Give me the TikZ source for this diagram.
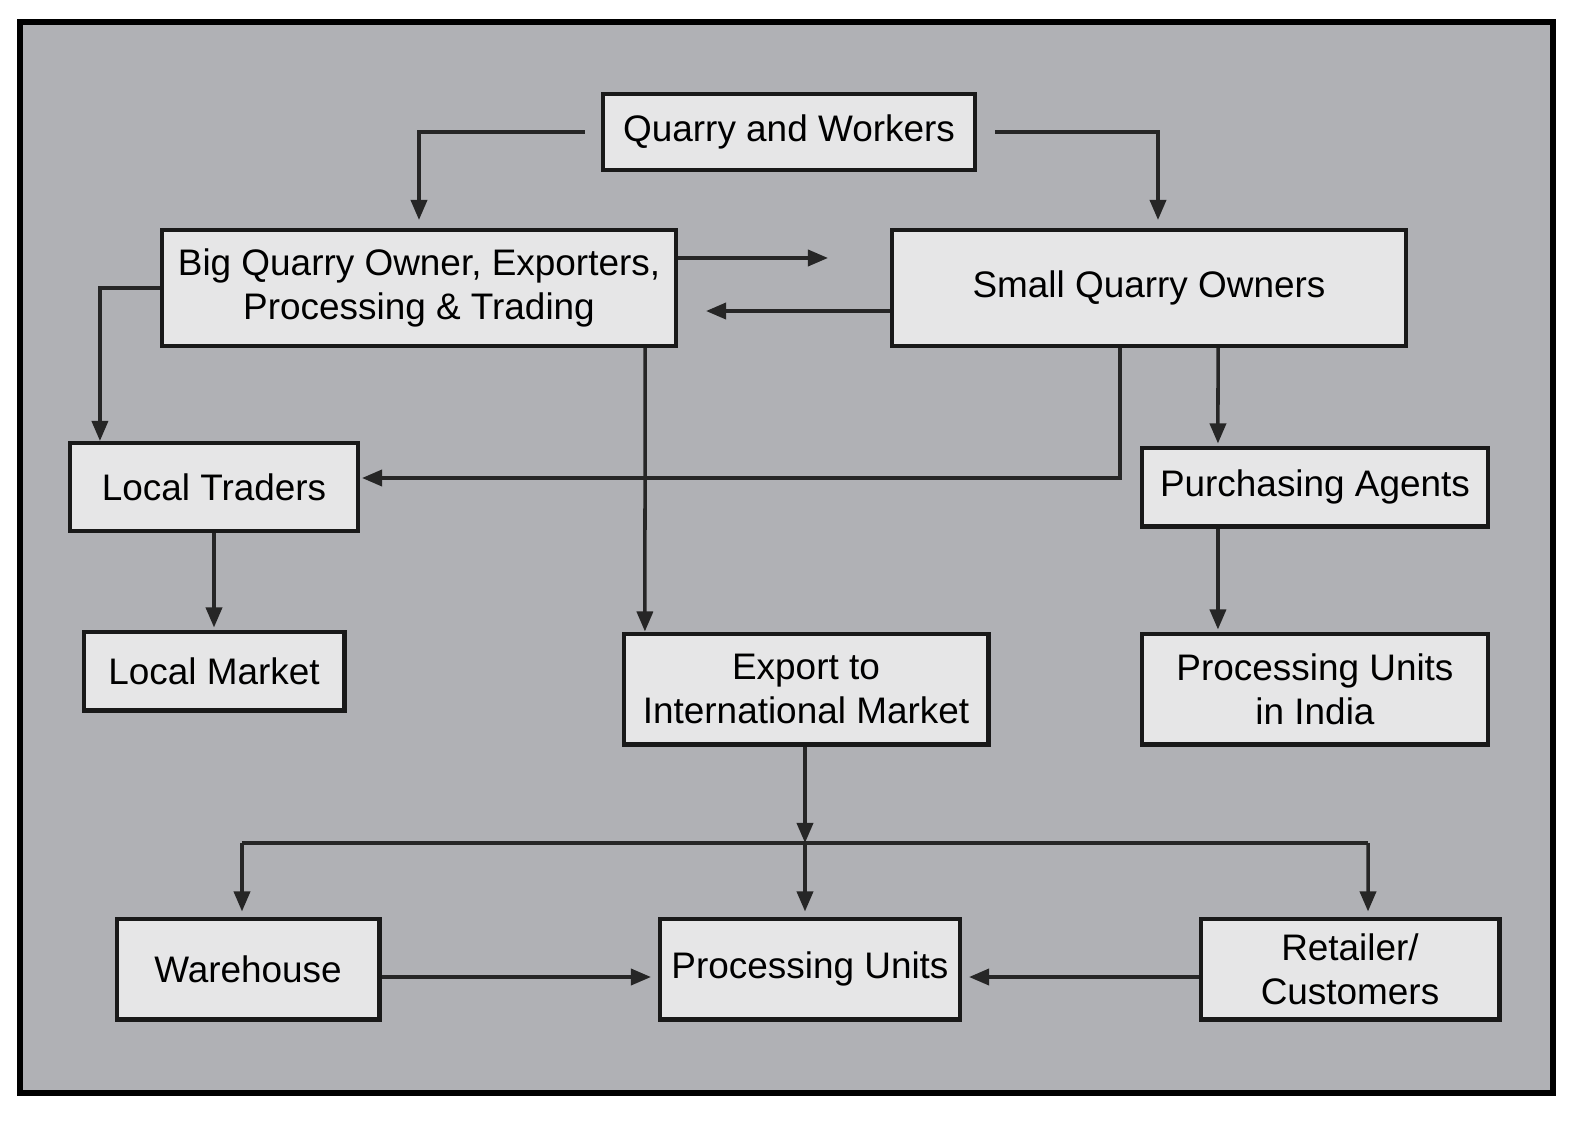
\documentclass[tikz,border=0pt]{standalone}
\usepackage{fontspec}
\setmainfont{Liberation Sans}
\usetikzlibrary{arrows.meta,calc}
\definecolor{bg}{HTML}{B0B1B5}
\definecolor{bx}{HTML}{E6E6E7}
\newcommand{\bxn}[6]{\node[box,minimum width=#4*0.01cm-1.2pt,minimum height=#5*0.01cm-1.2pt] (#1) at (#2,#3) {#6};}
\begin{document}%
\begin{tikzpicture}[x=0.01cm,y=-0.01cm,
  box/.style={draw=black!90,line width=1.2pt,fill=bx,inner sep=0pt,font=\fontsize{10.5}{12.5}\selectfont,align=center},
  arr/.style={draw=black!85,line width=1pt,-{Triangle[length=0.2cm,width=0.16cm]}},
  ln/.style={draw=black!85,line width=1pt}]
\useasboundingbox (0,0) rectangle (1596,1121);
\draw[line width=1.8pt,fill=bg] (20,22) rectangle (1553,1093);
\bxn{qw}{789}{132}{376}{80}{Quarry and Workers}
\bxn{big}{419}{288}{518}{120}{Big Quarry Owner, Exporters,\\Processing \& Trading}
\bxn{small}{1149}{288}{518}{120}{Small Quarry Owners}
\bxn{lt}{214}{487}{292}{92}{Local Traders}
\bxn{pa}{1315}{487}{350}{83}{Purchasing Agents}
\bxn{lm}{214}{671}{265}{83}{Local Market}
\bxn{ex}{806}{689}{369}{115}{Export to\\International Market}
\bxn{pui}{1315}{689}{350}{115}{Processing Units\\in India}
\bxn{wh}{248}{969}{267}{105}{Warehouse}
\bxn{pu}{810}{969}{304}{105}{Processing Units}
\bxn{rc}{1350}{969}{303}{105}{Retailer/\\Customers}
\coordinate (j) at (805,843);
\draw[arr] ([xshift=-0.16cm]qw.west) -| ([yshift=0.08cm]big.north);
\draw[arr] ([xshift=0.18cm]qw.east) -| ([xshift=0.09cm,yshift=0.08cm]small.north);
\draw[arr] ([yshift=0.3cm]big.east) -- ++(150,0);
\draw[arr] ([yshift=-0.23cm]small.west) -- ++(-184,0);
\draw[arr] (big.west) -| ([xshift=-1.14cm]lt.north);
\draw[arr] ([xshift=2.26cm]big.south) -- ([xshift=-1.61cm]ex.north);
\draw[arr] ([xshift=-0.29cm]small.south) |- ([xshift=0.02cm,yshift=0.09cm]lt.east);
\draw[arr] ([xshift=0.69cm]small.south) -- ([xshift=-0.97cm,yshift=0.02cm]pa.north);
\draw[arr] (lt.south) -- ([yshift=0.02cm]lm.north);
\draw[arr] ([xshift=-0.97cm]pa.south) -- ([xshift=-0.97cm,yshift=0.02cm]pui.north);
\draw[arr] ([xshift=-0.01cm]ex.south) -- (j);
\draw[ln] (242,843) -- (1368,843);
\draw[arr] (242,843) -- ([xshift=-0.06cm,yshift=0.05cm]wh.north);
\draw[arr] (j) -- ([xshift=-0.05cm,yshift=0.05cm]pu.north);
\draw[arr] (1368,843) -- ([xshift=0.18cm,yshift=0.05cm]rc.north);
\draw[arr] ([yshift=-0.08cm]wh.east) -- ([xshift=-0.07cm,yshift=-0.08cm]pu.west);
\draw[arr] ([yshift=-0.08cm]rc.west) -- ([xshift=0.07cm,yshift=-0.08cm]pu.east);
\end{tikzpicture}%
\end{document}
